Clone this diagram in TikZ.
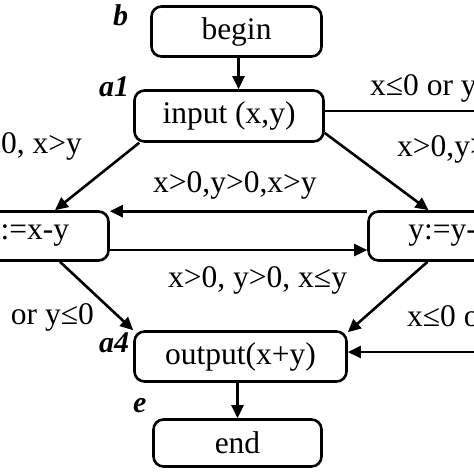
\documentclass[tikz,border=0pt]{standalone}
\usepackage{fontspec}
\setmainfont{Liberation Serif}
\usetikzlibrary{arrows.meta}

\tikzset{
    stepbox/.style={draw, line width=2.6pt, rounded corners=10pt, inner sep=0pt,
        font=\fontsize{31.5}{36}\selectfont},
    flowline/.style={line width=2.6pt},
    flowarrow/.style={line width=2.6pt, -{Triangle[length=13pt,width=12pt]}},
    condtext/.style={inner sep=0pt, font=\fontsize{31.5}{36}\selectfont},
    marktext/.style={inner sep=0pt, font=\fontsize{30}{34}\selectfont\bfseries\itshape},
}

\begin{document}
\begin{tikzpicture}[x=1pt,y=-1pt]%yscale=-1
    \useasboundingbox (0,0) rectangle (474,474);
    \clip (0,0) rectangle (474,474);

    %Shape: Rounded Rectangle [begin]
    \node [stepbox, minimum width=170, minimum height=50] (begin) at (236.5,31.5) {begin};
    %Shape: Rounded Rectangle [input]
    \node [stepbox, minimum width=189, minimum height=51] (input) at (229,116) {input (x,y)};
    %Shape: Rounded Rectangle [x:=x-y]
    \node [stepbox, minimum width=163, minimum height=49] (xsub) at (27,236) {x:=x-y};
    %Shape: Rounded Rectangle [y:=y-x]
    \node [stepbox, minimum width=164, minimum height=49] (ysub) at (450.5,236) {y:=y-x};
    %Shape: Rounded Rectangle [output]
    \node [stepbox, minimum width=212, minimum height=50] (output) at (240.5,356.5) {output(x+y)};
    %Shape: Rounded Rectangle [end]
    \node [stepbox, minimum width=168, minimum height=47] (end) at (237.5,443) {end};

    %Straight Lines [begin -> input]
    \draw [flowarrow] ([xshift=2pt]begin.south) -- ([xshift=2pt]begin.south |- input.north);
    %Straight Lines [input -> x:=x-y]
    \draw [flowarrow] ([xshift=6pt]input.south west) -- ([xshift=28pt]xsub.north);
    %Straight Lines [input -> y:=y-x]
    \draw [flowarrow] ([yshift=-17pt]input.east) -- ([xshift=-22pt]ysub.north);
    %Straight Lines [y:=y-x -> x:=x-y]
    \draw [flowarrow] ([yshift=-1pt]ysub.north west) -- ([yshift=-1pt]xsub.north east);
    %Straight Lines [x:=x-y -> y:=y-x]
    \draw [flowarrow] ([yshift=-14pt]xsub.east) -- ([yshift=-14pt]ysub.west);
    %Straight Lines [x:=x-y -> output]
    \draw [flowarrow] ([xshift=33pt]xsub.south) -- (output.north west);
    %Straight Lines [y:=y-x -> output]
    \draw [flowarrow] ([xshift=-23pt]ysub.south) -- ([yshift=-2pt]output.north east);
    %Straight Lines [input -> output, round the right side]
    \draw [flowarrow] ([yshift=5pt]input.east) -- ++(200,0) |- ([yshift=4.5pt]output.east);
    %Straight Lines [output -> end]
    \draw [flowarrow] (output.south -| end.north) -- (end.north);

    % Text Node
    \node [condtext, anchor=base west] (c1) at (370,95) {x≤0 or y≤0};
    % Text Node
    \node [condtext, anchor=base east] (c2) at (82,153) {x>0, y>0, x>y};
    % Text Node
    \node [condtext, anchor=base west] (c3) at (397,156) {x>0,y>0,x≤y};
    % Text Node
    \node [condtext, anchor=base west] (c4) at (153,192) {x>0,y>0,x>y};
    % Text Node
    \node [condtext, anchor=base west] (c5) at (168,287) {x>0, y>0, x≤y};
    % Text Node
    \node [condtext, anchor=base east] (c6) at (94,324) {or y≤0};
    % Text Node
    \node [condtext, anchor=base west] (c7) at (407,326) {x≤0 or y≤0};

    % Text Node
    \node [marktext, anchor=base west] (mb) at (113,25) {b};
    % Text Node
    \node [marktext, anchor=base west] (ma1) at (99,96) {a1};
    % Text Node
    \node [marktext, anchor=base west] (ma4) at (99,352) {a4};
    % Text Node
    \node [marktext, anchor=base west] (me) at (133,412) {e};

\end{tikzpicture}
\end{document}
